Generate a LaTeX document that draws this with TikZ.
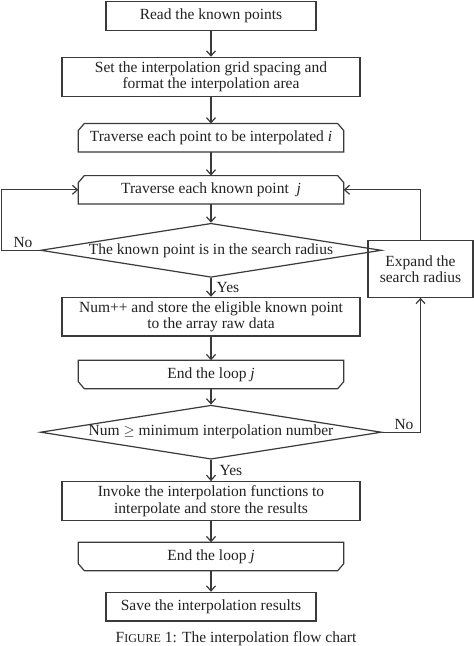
\documentclass[tikz,border=0pt]{standalone}
\usepackage{fontspec}
\setmainfont{Liberation Serif}
\usetikzlibrary{arrows.meta,shapes.geometric,calc}
\definecolor{ln}{HTML}{3a3a3a}
\definecolor{tx}{HTML}{222222}
\begin{document}
\begin{tikzpicture}[x=1pt,y=-1pt,
  every node/.style={text=tx, font=\fontsize{15.5}{16.7}\selectfont},
  proc/.style={draw=ln, line width=1.2pt, rectangle, inner sep=0pt, align=center},
  loopbox/.style={rectangle, inner sep=0pt, align=center, minimum width=265pt, minimum height=28pt},
  dec/.style={diamond, draw=ln, line width=1.2pt, aspect=6.3, inner sep=0pt, minimum width=341pt, minimum height=54pt},
  shapeline/.style={draw=ln, line width=1.2pt, line join=miter},
  arr/.style={draw=ln, line width=1.2pt, -{Straight Barb[length=5pt,width=9pt]}},
  lbl/.style={inner sep=0pt}
]
\useasboundingbox (0,0) rectangle (474,646);
\fill[white] (0,0) rectangle (474,646);

\node[proc, minimum width=210pt, minimum height=28.5pt] (b1) at (211,16) {Read the known points};
\node[proc, minimum width=298pt, minimum height=39pt] (b2) at (211,76.8) {Set the interpolation grid spacing and\\format the interpolation area};
\node[loopbox] (b3) at (211,137.7) {Traverse each point to be interpolated \textit{i}};
\node[loopbox] (b4) at (211,189.8) {Traverse each known point \ \textit{j}};
\node[dec] (d1) at (211,250.3) {The known point is in the search radius};
\node[proc, minimum width=298pt, minimum height=38.7pt] (b5) at (211,316.7) {Num++ and store the eligible known point\\to the array raw data};
\node[loopbox] (b6) at (211,374.5) {End the loop \textit{j}};
\node[dec] (d2) at (211,432.2) {Num $\geq$ minimum interpolation number};
\node[proc, minimum width=298pt, minimum height=39pt] (b7) at (211,501.2) {Invoke the interpolation functions to\\interpolate and store the results};
\node[loopbox] (b8) at (211,556.5) {End the loop \textit{j}};
\node[proc, minimum width=210pt, minimum height=28.7pt] (b9) at (211,606.7) {Save the interpolation results};
\node[proc, minimum width=105pt, minimum height=57pt, font=\fontsize{15.5}{16}\selectfont] (ex) at (420.5,268.7) {Expand the\\search radius};

% loop-start boxes (top corners chamfered)
\foreach \n in {b3,b4}{
  \draw[shapeline] (\n.south west) -- ($(\n.north west)+(0,7)$) -- ($(\n.north west)+(6,0)$)
    -- ($(\n.north east)+(-6,0)$) -- ($(\n.north east)+(0,7)$) -- (\n.south east) -- cycle;
}
% loop-end boxes (bottom corners chamfered)
\foreach \n in {b6,b8}{
  \draw[shapeline] (\n.north west) -- ($(\n.south west)+(0,-7)$) -- ($(\n.south west)+(6,0)$)
    -- ($(\n.south east)+(-6,0)$) -- ($(\n.south east)+(0,-7)$) -- (\n.north east) -- cycle;
}

\coordinate (lt) at (1.5,189.8);

\draw[arr] (b1.south) -- (b2.north);
\draw[arr] (b2.south) -- (b3.north);
\draw[arr] (b3.south) -- (b4.north);
\draw[arr] (b4.south) -- (d1.north);
\draw[arr] (d1.south) -- (b5.north);
\draw[arr] (b5.south) -- (b6.north);
\draw[arr] (b6.south) -- (d2.north);
\draw[arr] (d2.south) -- (b7.north);
\draw[arr] (b7.south) -- (b8.north);
\draw[arr] (b8.south) -- (b9.north);
\draw[arr] (d1.west) -| (lt) -- (b4.west);
\draw[arr] (ex.north) |- (b4.east);
\draw[arr] (d2.east) -| (ex.south);

\node[lbl] (no1) at (23,242) {No};
\node[lbl] (yes1) at (228,287) {Yes};
\node[lbl] (no2) at (404,424) {No};
\node[lbl] (yes2) at (231,470) {Yes};

\node[lbl, anchor=base] (cap) at (236,642) {F{\fontsize{12}{12}\selectfont IGURE} 1: The interpolation flow chart};
\end{tikzpicture}
\end{document}
